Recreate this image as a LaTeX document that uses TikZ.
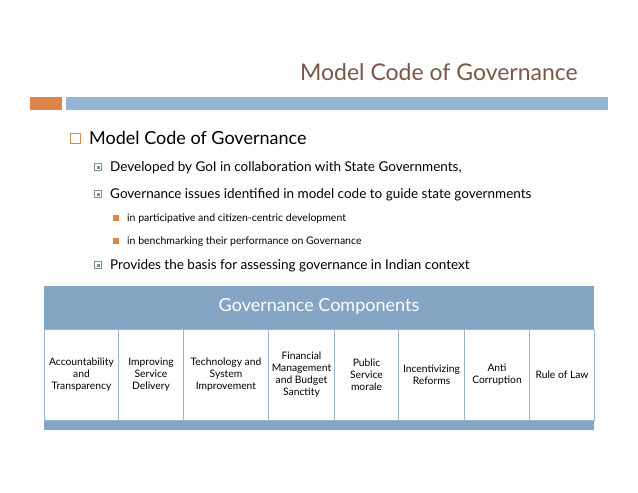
\documentclass[tikz,border=0pt]{standalone}
\usepackage{fontspec}
\setmainfont{Lato}
\usetikzlibrary{positioning}
\definecolor{titlebrown}{HTML}{7A5848}
\definecolor{barorange}{HTML}{DF8449}
\definecolor{barblue}{HTML}{93B6D6}
\definecolor{headblue}{HTML}{84A5C3}
\definecolor{cellline}{HTML}{9DB4CB}
\tikzset{
  lone/.style={anchor=base west, inner sep=0pt, font=\fontsize{18}{20}\selectfont},
  ltwo/.style={anchor=base west, inner sep=0pt, font=\fontsize{13.5}{16}\selectfont},
  lthree/.style={anchor=base west, inner sep=0pt, font=\fontsize{10.5}{12}\selectfont},
  cell/.style={draw=cellline, line width=1pt, fill=white, minimum height=91pt, inner sep=1pt,
    align=center, font=\fontsize{10.3}{12}\selectfont},
}
\begin{document}
\begin{tikzpicture}[x=1pt, y=1pt]
  \useasboundingbox[fill=white] (0,0) rectangle (638,-493);
  % title and bars
  \node[anchor=base east, text=titlebrown, inner sep=0pt, font=\fontsize{23}{26}\selectfont] (title) at (578,-80) {Model Code of Governance};
  \fill[barorange] (30,-97) rectangle (62,-110);
  \fill[barblue] (66,-97) rectangle (608,-110);

  % bullets
  \node[lone] (b1) at (89,-144) {Model Code of Governance};
  \draw[barorange, line width=0.8pt] (70,-133) rectangle (80,-143);
  \node[ltwo] (b2) at (110,-171) {Developed by GoI in collaboration with State Governments,};
  \node[ltwo] (b3) at (110,-198) {Governance issues identified in model code to guide state governments};
  \node[lthree] (b4) at (127,-221) {in participative and citizen-centric development};
  \node[lthree] (b5) at (127,-244) {in benchmarking their performance on Governance};
  \node[ltwo] (b6) at (110,-269) {Provides the basis for assessing governance in Indian context};
  \foreach \y in {-166,-193,-264} {
    \draw[barblue!80!black, line width=0.8pt] (94.5,\y+2.5) rectangle (101.5,\y-4.5);
    \fill[barblue!80!black] (96.5,\y+0.5) rectangle (99.5,\y-2.5);
  }
  \foreach \y in {-217,-240}
    \fill[barorange] (113,\y+2) rectangle (119,\y-4);

  % table
  \fill[headblue] (44,-286) rectangle (594,-430);
  \node[text=white, font=\fontsize{18}{20}\selectfont] (head) at (319,-307) {Governance Components};
  \foreach \xa/\xb/\txt [count=\i] in {
      44/118/{Accountability\\and\\Transparency},
      118/183/{Improving\\Service\\Delivery},
      183/268/{Technology and\\System\\Improvement},
      268/334/{Financial\\Management\\and Budget\\Sanctity},
      334/398/{Public\\Service\\morale},
      398/464/{Incentivizing\\Reforms},
      464/529/{Anti\\Corruption},
      529/594/{Rule of Law}} {
    \node[cell, minimum width={\xb-\xa}, anchor=north west] (c\i) at (\xa,-329) {\txt};
  }
\end{tikzpicture}
\end{document}
